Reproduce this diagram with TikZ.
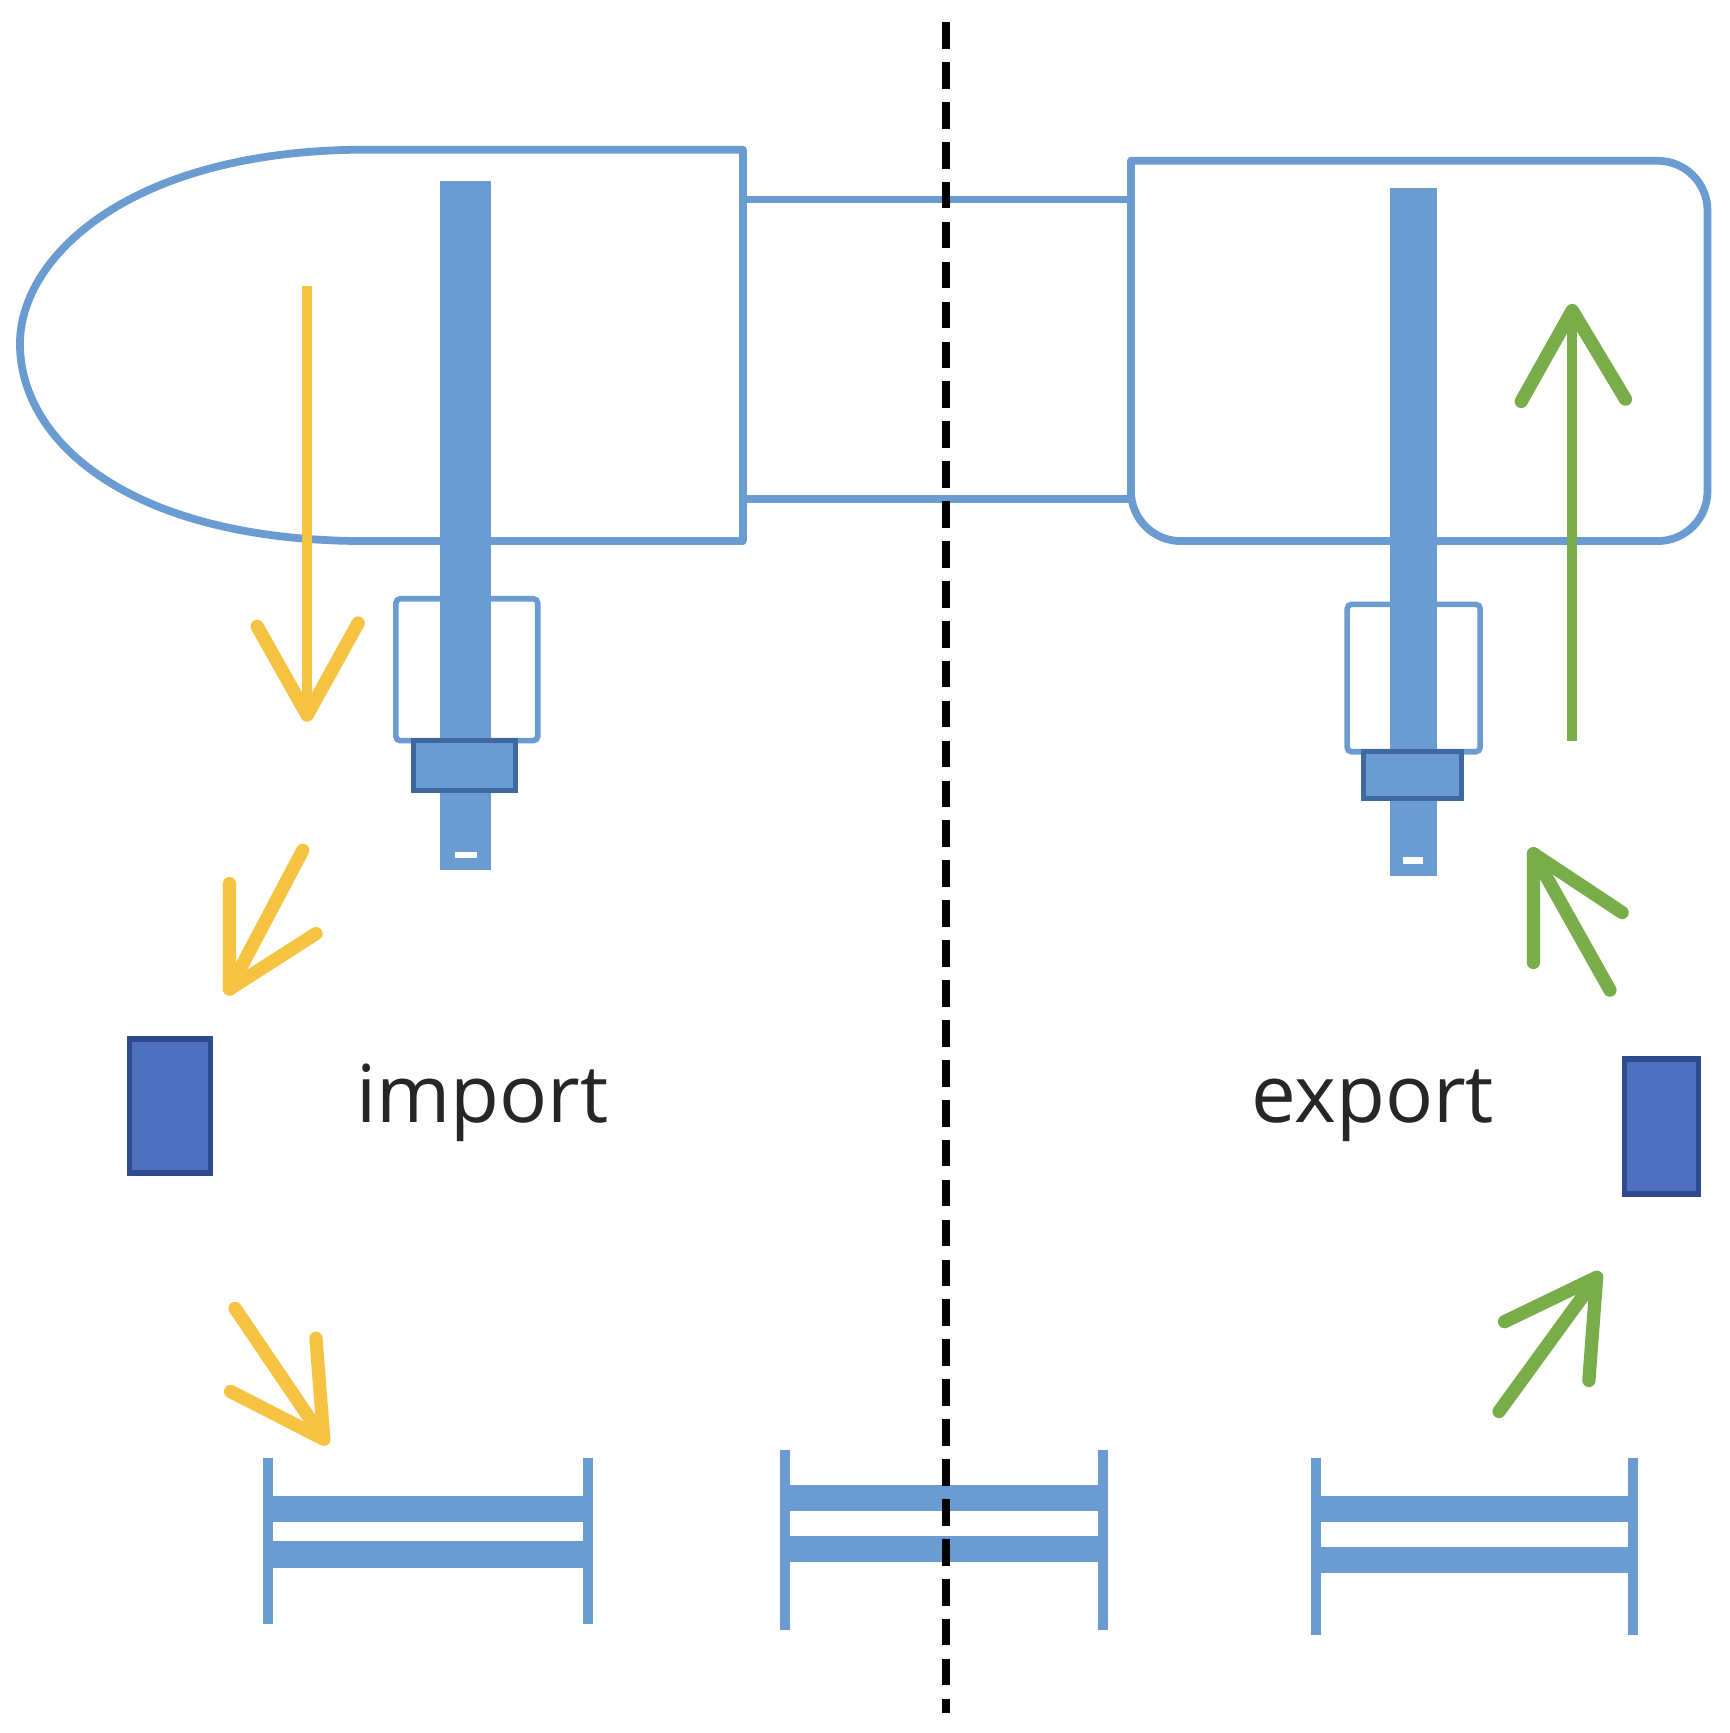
\documentclass[tikz,border=0pt]{standalone}
\usepackage{fontspec}
\setmainfont{Open Sans}
\begin{document}
\begin{tikzpicture}[x=1pt,y=-1pt,
  pod/.style={draw=lb,line width=7pt,line join=round},
  shaft/.style={fill=lb},
  nut/.style={fill=lb,draw=nb,line width=4.5pt},
  yarr/.style={draw=ya,line width=12pt,line cap=round,line join=round},
  garr/.style={draw=ga,line width=12pt,line cap=round,line join=round},
  blk/.style={fill=db,draw=dbb,line width=5pt},
  rail/.style={draw=lb,line width=24pt},
  post/.style={draw=lb,line width=9pt}]
\definecolor{lb}{HTML}{6A9BD1}
\definecolor{nb}{HTML}{3F68A0}
\definecolor{ya}{HTML}{F5C242}
\definecolor{ga}{HTML}{78AD4A}
\definecolor{db}{HTML}{4F6FBF}
\definecolor{dbb}{HTML}{2F4A8F}
\useasboundingbox[fill=white] (0,0) rectangle (1560,1563);
% left pod
\draw[pod] (670,135) -- (330,135) .. controls (120,135) and (18,230) .. (18,310) .. controls (18,400) and (120,488) .. (330,488) -- (670,488) -- cycle;
% tube
\draw[pod] (670,180) rectangle (1020,450);
% right pod
\draw[pod,rounded corners=45pt] (1020,145) -- (1540,145) -- (1540,488) -- (1020,488) [sharp corners] -- cycle;
% left shaft
\draw[draw=lb,line width=5pt,rounded corners=4pt] (357,540) rectangle (485,668);
\fill[shaft] (397,163) rectangle (443,785);
\fill[white] (410,768) rectangle (430,774);
\draw[nut] (373,668) rectangle (465,713);
% right shaft
\draw[draw=lb,line width=5pt,rounded corners=4pt] (1215,545) rectangle (1335,678);
\fill[shaft] (1254,170) rectangle (1296,790);
\fill[white] (1265,773) rectangle (1283,779);
\draw[nut] (1230,678) rectangle (1318,720);
% ladders
\foreach \a/\b/\t/\bt/\ya/\yb in {242/530/1315/1465/1361/1402, 708/995/1308/1470/1351/1397, 1187/1473/1315/1475/1361/1407}{
  \draw[post] (\a,\t) -- (\a,\bt);
  \draw[post] (\b,\t) -- (\b,\bt);
  \draw[rail] (\a,\ya) -- (\b,\ya);
  \draw[rail] (\a,\yb) -- (\b,\yb);
}
% dashed
\draw[line width=7pt,dash pattern=on 24pt off 12pt] (853,20) -- (853,1545);
% yellow arrows
\draw[draw=ya,line width=9pt] (277,258) -- (277,640);
\draw[yarr] (232,565) -- (277,645) -- (323,562);
\draw[yarr] (273,767) -- (207,892);
\draw[yarr] (207,797) -- (207,892) -- (285,842);
\draw[yarr] (212,1180) -- (292,1298);
\draw[yarr] (208,1255) -- (292,1298) -- (285,1207);
% green arrows
\draw[draw=ga,line width=9pt] (1418,668) -- (1418,285);
\draw[garr] (1372,362) -- (1418,280) -- (1466,360);
\draw[garr] (1452,893) -- (1383,770);
\draw[garr] (1383,868) -- (1383,770) -- (1463,823);
\draw[garr] (1352,1273) -- (1440,1152);
\draw[garr] (1357,1192) -- (1440,1152) -- (1433,1245);
% blocks
\draw[blk] (117,937) rectangle (190,1058);
\draw[blk] (1465,955) rectangle (1532,1077);
% text
\node[font=\fontsize{72}{74}\selectfont,text=black!85] (imp) at (435,995) {import};
\node[font=\fontsize{72}{74}\selectfont,text=black!85] (exp) at (1238,997) {export};
\end{tikzpicture}
\end{document}
